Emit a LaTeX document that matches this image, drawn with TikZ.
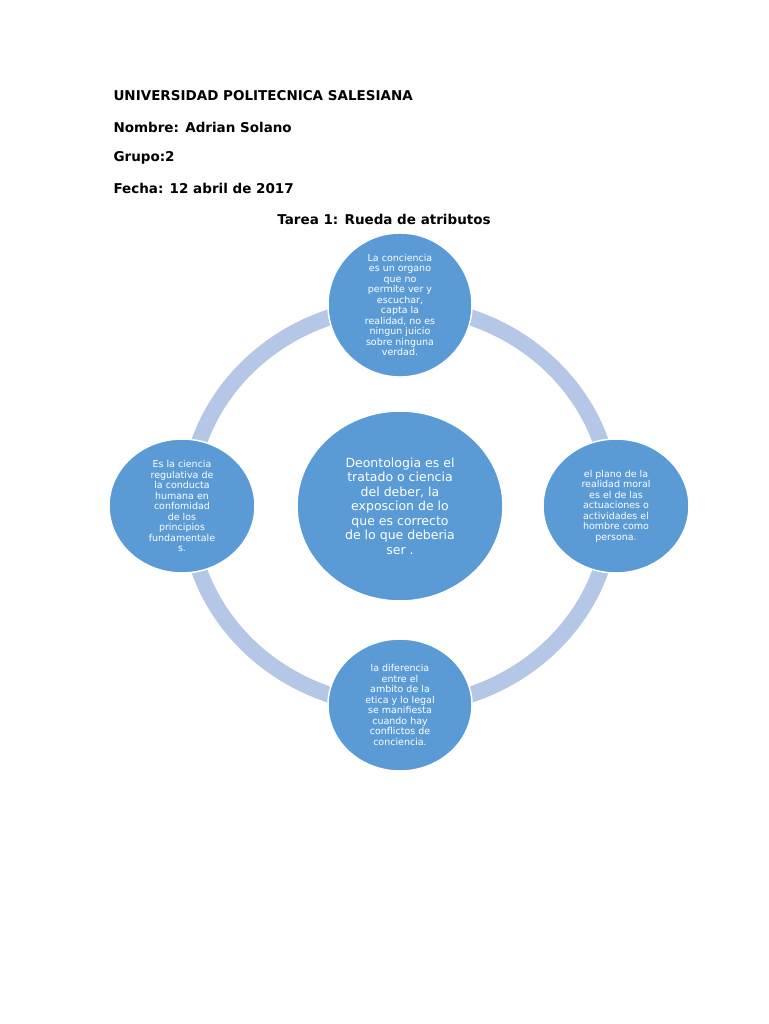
\documentclass[tikz,border=0pt]{standalone}
\usepackage{fontspec}
\setmainfont{DejaVu Sans}
\usetikzlibrary{shapes.geometric}
\definecolor{ring}{HTML}{B4C7E7}
\definecolor{blob}{HTML}{5B9BD5}
\begin{document}
\begin{tikzpicture}[x=1pt,y=-1pt,
 blobc/.style={ellipse,fill=blob,draw=white,line width=1.5pt,text=white,align=center,inner sep=0pt,font=\fontsize{9.5}{10.5}\selectfont},
 head/.style={anchor=west,font=\fontsize{13.5}{16}\selectfont\bfseries}]
\useasboundingbox (0,0) rectangle (768,1024);
\fill[white] (0,0) rectangle (768,1024);
\node[head] (h1) at (110,96) {UNIVERSIDAD POLITECNICA SALESIANA};
\node[head] (h2) at (110,127) {Nombre: Adrian Solano};
\node[head] (h3) at (110,158) {Grupo:2};
\node[head] (h4) at (110,188) {Fecha: 12 abril de 2017};
\node[font=\fontsize{13.5}{16}\selectfont\bfseries] (t) at (384,219) {Tarea 1: Rueda de atributos};
\draw[ring,line width=16pt] (400,506) ellipse [x radius=212, y radius=200];
\node[blobc,minimum width=144,minimum height=132] (top) at (400,305) {La conciencia\\es un organo\\que no\\permite ver y\\escuchar,\\capta la\\realidad, no es\\ningun juicio\\sobre ninguna\\verdad.};
\node[blobc,minimum width=146,minimum height=134] (left) at (182,506) {Es la ciencia\\regulativa de\\la conducta\\humana en\\confomidad\\de los\\principios\\fundamentale\\s.};
\node[blobc,minimum width=146,minimum height=134] (right) at (616,506) {el plano de la\\realidad moral\\es el de las\\actuaciones o\\actividades el\\hombre como\\persona.};
\node[blobc,minimum width=144,minimum height=132] (bot) at (400,705) {la diferencia\\entre el\\ambito de la\\etica y lo legal\\se manifiesta\\cuando hay\\conflictos de\\conciencia.};
\node[blobc,minimum width=206,minimum height=190,font=\fontsize{12.5}{14.5}\selectfont] (c) at (400,506) {Deontologia es el\\tratado o ciencia\\del deber, la\\exposcion de lo\\que es correcto\\de lo que deberia\\ser .};
\end{tikzpicture}
\end{document}
